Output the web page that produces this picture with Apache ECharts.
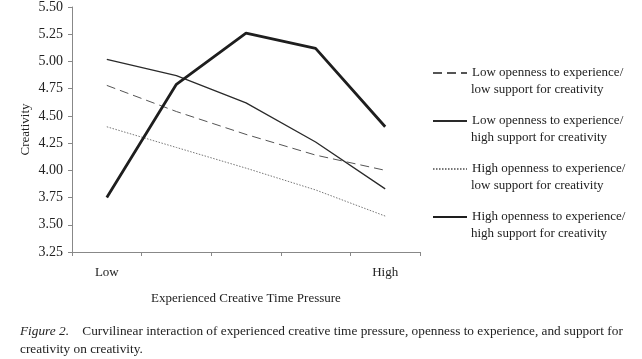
<!DOCTYPE html>
<html><head><meta charset="utf-8">
<script src="https://cdn.jsdelivr.net/npm/echarts@6/dist/echarts.min.js"></script>
<style>html,body{margin:0;padding:0;background:#fff}#c{width:642px;height:359px}</style>
</head><body><div id="c"></div>
<script>
var categories = ['Low', '', '', '', 'High'];
var seriesNames = [
  'Low openness to experience/',
  'Low openness to experience/',
  'High openness to experience/',
  'High openness to experience/'
];
var seriesSecondLines = [
  'low support for creativity',
  'high support for creativity',
  'low support for creativity',
  'high support for creativity'
];
var lowOpenLowSupport = [4.78, 4.54, 4.33, 4.14, 4.00];
var lowOpenHighSupport = [5.02, 4.87, 4.62, 4.26, 3.83];
var highOpenLowSupport = [4.40, 4.21, 4.02, 3.82, 3.58];
var highOpenHighSupport = [3.75, 4.79, 5.26, 5.12, 4.40];
var yTicks = [3.25, 3.50, 3.75, 4.00, 4.25, 4.50, 4.75, 5.00, 5.25, 5.50];

var serif = '"Liberation Serif", "DejaVu Serif", serif';
var ids = ['s0','s1','s2','s3'];
var styles = [
  {color:'#555', width:1, type:[9,5]},
  {color:'#2a2a2a', width:1.3, type:'solid'},
  {color:'#777', width:1, type:[1.5,1.5]},
  {color:'#1e1e1e', width:2.8, type:'solid'}
];
var dataSets = [lowOpenLowSupport, lowOpenHighSupport, highOpenLowSupport, highOpenHighSupport];

var series = dataSets.map(function(d, i){
  return {
    id: ids[i], name: ids[i], type:'line', data:d, symbol:'none', smooth:false,
    lineStyle: {color: styles[i].color, width: styles[i].width, type: styles[i].type},
    itemStyle: {color: styles[i].color},
    emphasis: {disabled:true}, silent:true, animation:false
  };
});

var graphics = seriesSecondLines.map(function(t, i){
  return {type:'text', left: 471, top: 83 + i*48,
    style:{text:t, font:'13px ' + serif, fill:'#222'}};
});
graphics.push({type:'text', left:20, top:325,
  style:{text:'{i|Figure 2.}    Curvilinear interaction of experienced creative time pressure, openness to experience, and support for',
    font:'13.3px ' + serif, fill:'#222',
    rich:{i:{fontStyle:'italic', fontFamily:serif, fontSize:13.3, fill:'#222'}}}});
graphics.push({type:'text', left:20, top:343,
  style:{text:'creativity on creativity.', font:'13.3px ' + serif, fill:'#222'}});

var chart = echarts.init(document.getElementById('c'));
chart.setOption({
  animation:false,
  backgroundColor:'#fff',
  grid:{left:72, top:7, width:348, height:245, containLabel:false},
  xAxis:{type:'category', data:categories, boundaryGap:true,
    axisLine:{lineStyle:{color:'#888', width:1}},
    axisTick:{show:true, alignWithLabel:false, length:4, lineStyle:{color:'#888'}},
    axisLabel:{color:'#222', fontFamily:serif, fontSize:13, margin:14, interval:0},
    name:'Experienced Creative Time Pressure', nameLocation:'middle', nameGap:40,
    nameTextStyle:{color:'#222', fontFamily:serif, fontSize:13},
    splitLine:{show:false}},
  yAxis:{type:'value', min:3.25, max:5.5, interval:0.25,
    axisLine:{show:true, lineStyle:{color:'#888', width:1}},
    axisTick:{show:true, length:4, lineStyle:{color:'#888'}},
    axisLabel:{color:'#222', fontFamily:serif, fontSize:14, margin:9,
      formatter:function(v){ return v.toFixed(2); }},
    name:'Creativity', nameLocation:'middle', nameGap:40, nameRotate:90,
    nameMoveOverlap:false,
    nameTextStyle:{color:'#222', fontFamily:serif, fontSize:13},
    splitLine:{show:false}},
  legend:{orient:'vertical', left:432, top:66, padding:0, itemWidth:34, itemHeight:14, itemGap:34,
    data: ids, selectedMode:false,
    itemStyle:{opacity:0, borderWidth:0},
    formatter:function(n){ return seriesNames[ids.indexOf(n)]; },
    textStyle:{color:'#222', fontFamily:serif, fontSize:13, lineHeight:14}},
  series: series,
  graphic: graphics
});
</script></body></html>
